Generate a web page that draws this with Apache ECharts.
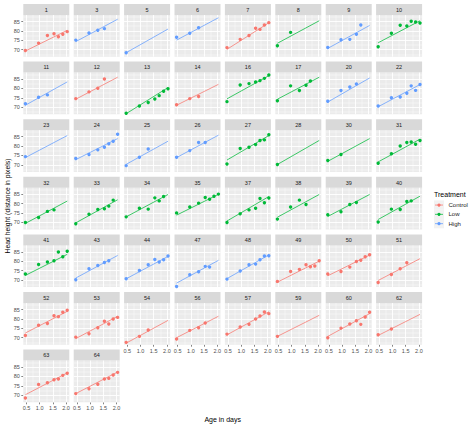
<!DOCTYPE html>
<html><head><meta charset="utf-8">
<script src="https://cdn.jsdelivr.net/npm/echarts@6/dist/echarts.min.js"></script>
<style>html,body{margin:0;padding:0;background:#fff}#c{width:474px;height:426px}</style>
</head><body><div id="c"></div><script>
// ---- data ----
const panelIds = ['1','3','5','6','7','8','9','10','11','12','13','14','16','17','20','22','23','24','25','26','27','28','30','31','32','33','34','35','37','38','39','40','41','43','44','47','48','49','50','51','52','53','54','56','57','59','60','62','63','64'];
const treatments = ['Control','High','High','High','Control','Low','High','Low',
  'High','Control','Low','Control','Low','Low','High','High',
  'High','High','High','High','Low','Low','Low','Low',
  'Low','Low','Low','Low','Low','Low','Low','Low',
  'Low','High','High','High','High','Control','Control','Control',
  'Control','Control','Control','Control','Control','Control','Control','Control',
  'Control','Control'];
const ages = [0.458, 0.958, 1.292, 1.542, 1.708, 1.875, 2.042];
const h1 = [69.6, 73.5, 77.6, 78.5, 76.9, 78.2, 79.6];
const h3 = [75.1, 78.9, 80.3, 81.2];
const h5 = [68.4];
const h6 = [76.6, 78.7, 81.7];
const h7 = [71.1, 75.5, 77.6, 81.4, 80.8, 83.1, 84.4];
const h8 = [72.1, 79.2];
const h9 = [71.2, 75.3, 75.5, 78.2, 83.1];
const h10 = [71.6, 78.7, 83.0, 82.6, 85.1, 84.7, 84.2];
const h11 = [71.9, 75.3, 76.6];
const h12 = [74.6, 78.2, 80.1, 85.1];
const h13 = [66.8, 70.7, 72.5, 74.4, 76.2, 78.5, 79.9];
const h14 = [71.4, 74.6, 75.7];
const h16 = [73.0, 81.9, 82.6, 83.5, 84.2, 85.4, 87.2];
const h17 = [73.5, 81.4, 78.9, 81.7, 84.0];
const h20 = [73.2, 78.9, 80.8, 82.4];
const h22 = [70.7, 75.1, 75.5, 77.5, 81.4, 79.0, 82.1];
const h23 = [74.4];
const h24 = [73.4, 75.5, 78.0, 79.4, 81.2, 82.6, 86.3];
const h25 = [69.6, 74.1, 78.5];
const h26 = [74.1, 77.6, 81.9, 81.9];
const h27 = [70.5, 78.7, 79.4, 80.8, 83.0, 83.3, 86.0];
const h28 = [70.2];
const h30 = [72.3, 75.5];
const h31 = [70.9, 75.9, 80.1, 81.9, 82.2, 81.0, 83.0];
const h32 = [70.0, 72.7, 75.9, 76.7];
const h33 = [69.3, 74.4, 76.9, 77.3, 78.7, 81.9];
const h34 = [73.0, 77.6, 77.1, 83.1, 81.5, 83.8];
const h35 = [75.1, 78.2, 80.3, 83.3, 82.4, 84.0, 85.1];
const h37 = [70.0, 74.6, 76.7, 77.6, 82.8, 80.5, 83.0];
const h38 = [71.8, 78.2, 81.9, 79.6];
const h39 = [74.1, 75.7, 79.6, 80.6];
const h40 = [70.3, 77.1, 76.9, 81.2, 81.5];
const h41 = [73.2, 78.3, 79.6, 80.3, 84.9, 82.4, 85.3];
const h43 = [70.2, 76.0, 77.8, 79.4, 80.3];
const h44 = [70.7, 75.1, 78.2, 81.0, 79.6, 80.8, 82.8];
const h47 = [66.6, 72.8, 74.4, 77.3, 76.9];
const h48 = [70.5, 74.8, 78.2, 78.5, 80.8, 82.8, 83.0];
const h49 = [69.3, 74.6, 75.7, 78.2, 77.1, 77.5, 80.3];
const h50 = [73.2, 74.6, 76.9, 79.9, 80.6, 82.4, 83.5];
const h51 = [68.7, 73.0, 76.0, 79.2];
const h52 = [71.2, 76.6, 77.6, 81.7, 81.2, 83.5, 84.6];
const h53 = [70.3, 72.1, 75.3, 78.7, 77.3, 79.9, 80.8];
const h54 = [67.5, 70.7, 74.1];
const h56 = [69.3, 73.9, 75.3, 77.8];
const h57 = [71.9, 75.7, 77.1, 79.9, 81.5, 83.7, 82.8];
const h59 = [70.7];
const h60 = [70.0, 75.1, 77.3, 79.0, 77.1, 81.0, 83.5];
const h62 = [71.6, 74.6];
const h63 = [68.6, 75.7, 76.7, 78.3, 78.7, 80.6, 81.7];
const h64 = [70.9, 73.5, 75.9, 78.7, 79.0, 80.8, 82.2];
const heights = [h1,h3,h5,h6,h7,h8,h9,h10,h11,h12,h13,h14,h16,h17,h20,h22,h23,h24,h25,h26,h27,h28,h30,h31,h32,h33,h34,h35,h37,h38,h39,h40,h41,h43,h44,h47,h48,h49,h50,h51,h52,h53,h54,h56,h57,h59,h60,h62,h63,h64];
// fitted line: value at first age and at last age
const lineStart = [69.3,74.3,68.4,75.1,70.2,73.4,70.7,73.7, 71.1,74.3,66.6,71.1,74.5,74.3,72.8,70.3, 73.9,72.8,70.3,73.9,72.6,70.2,71.9,71.6, 69.5,69.8,73.0,73.9,70.8,72.8,73.2,71.6, 72.5,71.1,70.7,68.4,70.8,68.9,72.3,69.8, 72.5,69.5,67.1,70.0,71.5,70.7,70.7,71.2, 70.3,70.9];
const lineEnd = [80.3,86.2,81.0,87.0,84.3,85.4,82.9,85.4, 83.5,86.0,80.5,82.2,86.8,86.0,85.6,82.1, 85.6,84.0,82.6,85.8,85.6,83.0,84.0,83.7, 81.4,82.1,84.9,85.0,83.8,84.9,84.9,84.0, 83.7,83.1,82.6,80.5,83.4,80.1,83.3,81.4, 84.0,81.4,79.2,81.4,83.8,81.9,82.8,82.4, 81.9,82.4];
const groupNames = ['Control','Low','High'];
const groupColors = ['#F8766D','#00BA38','#619CFF'];
const yMajor = [70, 75, 80, 85];
const yMinor = [67.5, 72.5, 77.5, 82.5, 87.5];
const xMajor = [0.5, 1.0, 1.5, 2.0];
const xMinor = [0.75, 1.25, 1.75];

// ---- layout ----
const FONT = "'Liberation Sans', Arial, sans-serif";
const L = {left0: 23.3, pitchX: 50.4, panelW: 46, top0: 4, pitchY: 57.6, stripH: 11, panelH: 41.7};
const X_RANGE = [0.379, 2.121];
const Y_RANGE = [66.27, 88.46];

const grids = [], xAxes = [], yAxes = [], series = [], graphics = [];
panelIds.forEach((id, i) => {
  const col = i % 8, row = Math.floor(i / 8);
  const left = L.left0 + col * L.pitchX;
  const stripTop = L.top0 + row * L.pitchY;
  const top = stripTop + L.stripH;
  const isBottom = row === 6 || (row === 5 && col >= 2);
  const isLeft = col === 0;
  const color = groupColors[groupNames.indexOf(treatments[i])];
  grids.push({left: left, top: top, width: L.panelW, height: L.panelH, show: true,
    backgroundColor: '#EBEBEB', borderWidth: 0, containLabel: false});
  xAxes.push({gridIndex: i, type: 'value', min: X_RANGE[0], max: X_RANGE[1],
    axisLine: {show: false}, splitLine: {show: false},
    axisTick: {show: isBottom, customValues: xMajor, length: 2, lineStyle: {color: '#333333', width: 0.6}},
    axisLabel: {show: isBottom, customValues: xMajor, formatter: v => v.toFixed(1), fontSize: 5.5,
      color: '#4D4D4D', margin: 3, fontFamily: FONT}});
  yAxes.push({gridIndex: i, type: 'value', min: Y_RANGE[0], max: Y_RANGE[1],
    axisLine: {show: false}, splitLine: {show: false},
    axisTick: {show: isLeft, customValues: yMajor, length: 2, lineStyle: {color: '#333333', width: 0.6}},
    axisLabel: {show: isLeft, customValues: yMajor, fontSize: 5.5, color: '#4D4D4D', margin: 3.5, fontFamily: FONT}});
  const ml = [];
  yMinor.forEach(v => ml.push({yAxis: v, lineStyle: {width: 0.45}}));
  xMinor.forEach(v => ml.push({xAxis: v, lineStyle: {width: 0.45}}));
  yMajor.forEach(v => ml.push({yAxis: v, lineStyle: {width: 0.9}}));
  xMajor.forEach(v => ml.push({xAxis: v, lineStyle: {width: 0.9}}));
  series.push({type: 'line', xAxisIndex: i, yAxisIndex: i, data: [], silent: true, z: 1,
    markLine: {silent: true, z: 1, symbol: ['none', 'none'], animation: false, label: {show: false},
      emphasis: {disabled: true}, lineStyle: {color: '#FFFFFF', type: 'solid'}, data: ml}});
  series.push({type: 'line', name: treatments[i], xAxisIndex: i, yAxisIndex: i, z: 2, silent: true,
    data: [[ages[0], lineStart[i]], [ages[ages.length - 1], lineEnd[i]]],
    showSymbol: false, symbol: 'none', lineStyle: {color: color, width: 0.75}, itemStyle: {color: color}, animation: false});
  series.push({type: 'scatter', name: treatments[i], xAxisIndex: i, yAxisIndex: i, z: 3, silent: true,
    data: heights[i].map((v, k) => [ages[k], v]), symbolSize: 3.4, itemStyle: {color: color, opacity: 1}, animation: false});
  graphics.push({type: 'rect', shape: {x: left, y: stripTop, width: L.panelW, height: L.stripH}, style: {fill: '#D9D9D9'}, silent: true});
  graphics.push({type: 'text', x: left + L.panelW / 2, y: stripTop + L.stripH / 2 + 0.3,
    style: {text: id, fill: '#1A1A1A', fontSize: 5.5, fontFamily: FONT, textAlign: 'center', textVerticalAlign: 'middle'}, silent: true});
});

// axis titles
graphics.push({type: 'text', x: 222.7, y: 419, style: {text: 'Age in days', fill: '#000', fontSize: 7, fontFamily: FONT, textAlign: 'center', textVerticalAlign: 'middle'}});
graphics.push({type: 'text', x: 7, y: 206, rotation: Math.PI / 2, style: {text: 'Head height (distance in pixels)', fill: '#000', fontSize: 6.8, fontFamily: FONT, textAlign: 'center', textVerticalAlign: 'middle'}});
// legend
graphics.push({type: 'text', x: 434, y: 194, style: {text: 'Treatment', fill: '#000', fontSize: 7, fontFamily: FONT, textAlign: 'left', textVerticalAlign: 'middle'}});
groupNames.forEach((g, k) => {
  const y0 = 200.4 + k * 9.3, cy = y0 + 4.65;
  graphics.push({type: 'rect', shape: {x: 434, y: y0, width: 10, height: 9.3}, style: {fill: '#F2F2F2'}});
  graphics.push({type: 'line', shape: {x1: 435, y1: cy, x2: 443, y2: cy}, style: {stroke: groupColors[k], lineWidth: 0.75}});
  graphics.push({type: 'circle', shape: {cx: 439, cy: cy, r: 1.6}, style: {fill: groupColors[k]}});
  graphics.push({type: 'text', x: 448.5, y: cy, style: {text: g, fill: '#1A1A1A', fontSize: 6, fontFamily: FONT, textAlign: 'left', textVerticalAlign: 'middle'}});
});

const chart = echarts.init(document.getElementById('c'), null, {renderer: 'svg'});
chart.setOption({
  animation: false,
  backgroundColor: '#FFFFFF',
  textStyle: {fontFamily: FONT},
  grid: grids, xAxis: xAxes, yAxis: yAxes, series: series,
  graphic: {elements: graphics}
});
</script></body></html>
